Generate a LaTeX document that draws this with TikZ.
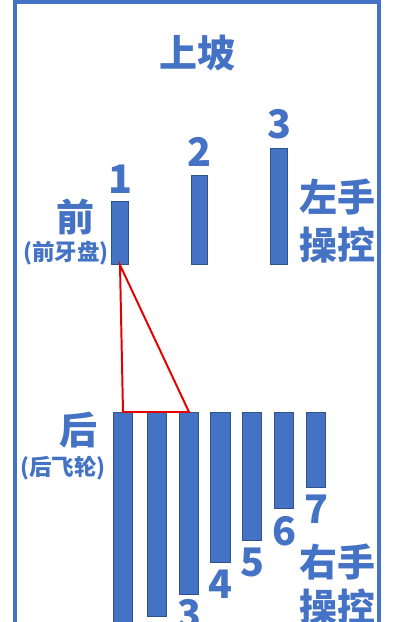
\documentclass[tikz,border=0pt]{standalone}
\usepackage{fontspec}
\setmainfont{Noto Sans CJK SC}
\usepackage{tikz}
\usetikzlibrary{calc,positioning}
\definecolor{azul}{HTML}{4472C4}
\definecolor{azulosc}{HTML}{2F528F}
\tikzset{
    marco/.style={draw=azul,line width=2.8pt},
    titulo/.style={text=azul,font=\bfseries\fontsize{27}{30}\selectfont,inner sep=0pt},
    texto/.style={text=azul,font=\bfseries\fontsize{27}{30}\selectfont,inner sep=0pt,align=center},
    sub/.style={text=azul,font=\bfseries\fontsize{16}{18}\selectfont,inner sep=0pt},
    num/.style={text=azul,font=\bfseries\fontsize{28}{30}\selectfont,inner sep=0pt},
    plato/.style={rectangle,draw=azulosc,fill=azul,line width=0.6pt,minimum width=0.42cm,inner sep=0pt,anchor=south},
    pinon/.style={rectangle,draw=azulosc,fill=azul,line width=0.6pt,minimum width=0.49cm,inner sep=0pt,anchor=north},
    cadena/.style={draw=red!90!black,line width=1.4pt,line join=miter},
}

\begin{document}
\begin{tikzpicture}[x=0.025cm,y=-0.025cm]
\useasboundingbox (0,0) rectangle (400,622);
\clip (0,0) rectangle (400,622);
\draw[marco] (15,660) -- (15,2) -- (379,2) -- (379,660);

\node[titulo] (subida) at (197,53) {上坡};

% platos (delante)
\node[plato,minimum height=63*0.025cm]  (f1) at (120,265) {};
\node[plato,minimum height=89*0.025cm]  (f2) at (199.5,265) {};
\node[plato,minimum height=116*0.025cm] (f3) at (279,265) {};
\node[num] (nf1) at ($(f1.north)+(0,-22)$) {1};
\node[num] (nf2) at ($(f2.north)+(0,-23)$) {2};
\node[num] (nf3) at ($(f3.north)+(0,-24)$) {3};

\node[texto] (del)  at (75,217) {前};
\node[sub]   (deltxt) at (66,253) {(前牙盘)};
\node[texto] (izq1) at (337,197) {左手};
\node[texto] (izq2) at (337,245) {操控};

% pinones (detras)
\node[pinon,minimum height=240*0.025cm] (r1) at (123,412) {};
\node[pinon,minimum height=204*0.025cm] (r2) at (157,412) {};
\node[pinon,minimum height=182*0.025cm] (r3) at (189,412) {};
\node[pinon,minimum height=150*0.025cm] (r4) at (220.5,412) {};
\node[pinon,minimum height=128*0.025cm] (r5) at (252,412) {};
\node[pinon,minimum height=96*0.025cm]  (r6) at (284,412) {};
\node[pinon,minimum height=75*0.025cm]  (r7) at (316,412) {};
\node[num] (nr3) at ($(r3.south)+(0,19)$) {3};
\node[num] (nr4) at ($(r4.south)+(0,21)$) {4};
\node[num] (nr5) at ($(r5.south)+(0,22)$) {5};
\node[num] (nr6) at ($(r6.south)+(0,22)$) {6};
\node[num] (nr7) at ($(r7.south)+(0,21)$) {7};

\node[texto] (tra)  at (78,430) {后};
\node[sub]   (tratxt) at (63,468) {(后飞轮)};
\node[texto] (der1) at (337,562) {右手};
\node[texto] (der2) at (337,607) {操控};

\draw[cadena] (f1.south) -- (r1.north) -- (r3.north) -- cycle;
\end{tikzpicture}
\end{document}
